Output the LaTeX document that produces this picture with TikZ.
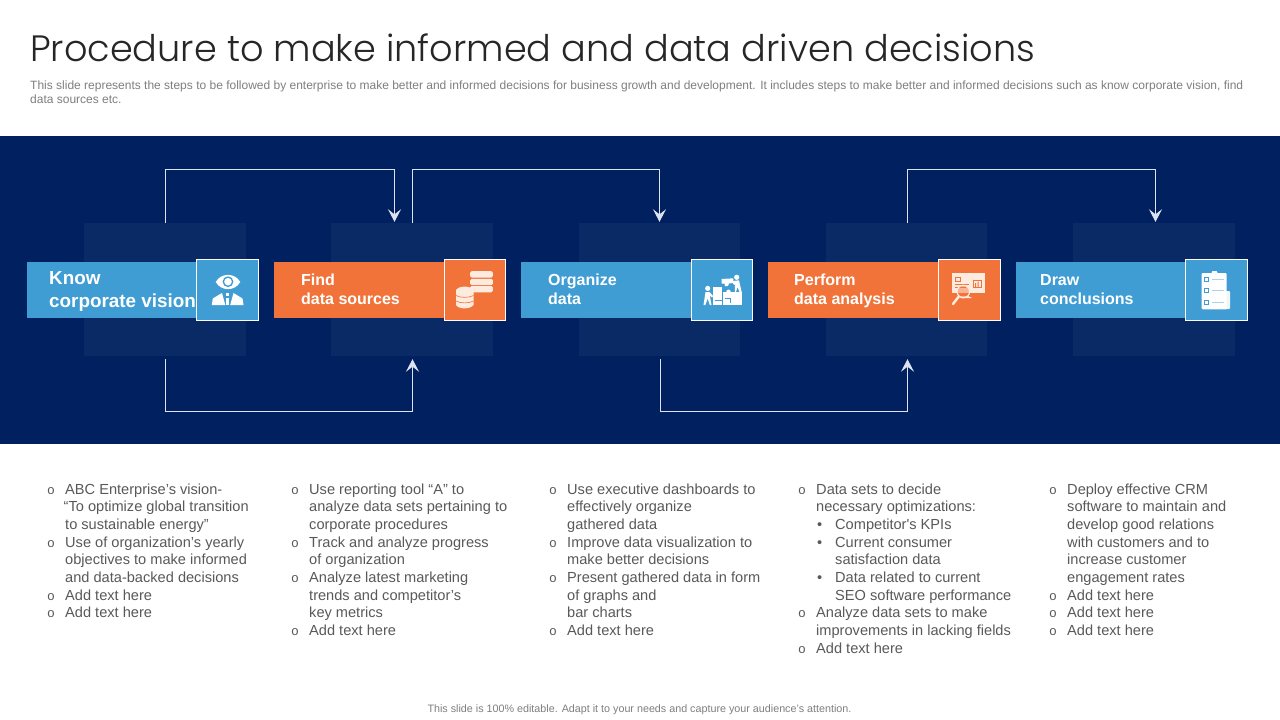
\documentclass[tikz,border=0pt]{standalone}
\usepackage{fontspec}
\usetikzlibrary{arrows.meta}
\newfontfamily\bodyfont{Liberation Sans}
\newfontfamily\bulfont{Liberation Mono}
\newfontfamily\titlefont{Poppins Light}
\definecolor{navy}{HTML}{00205F}
\definecolor{panelc}{HTML}{0A2A66}
\definecolor{bluec}{HTML}{3F9DD3}
\definecolor{orangec}{HTML}{F2733A}
\definecolor{bodyc}{HTML}{595959}
\definecolor{subc}{HTML}{7F7F7F}
\definecolor{linec}{HTML}{DDE3EE}
\definecolor{creamc}{HTML}{FDEBDF}
\newcommand\bul{\makebox[18pt][l]{{\bulfont\fontsize{13pt}{13pt}\selectfont o}}}
\newcommand\cnt{\hspace*{18pt}}
\newcommand\sbul{\hspace*{18pt}\makebox[19pt][l]{\hspace*{1pt}•}}
\newcommand\scnt{\hspace*{37pt}}
\tikzset{
  panelbox/.style={fill=panelc,minimum width=161.5pt,minimum height=133pt,inner sep=0pt},
  barbox/.style={anchor=north west,minimum width=171pt,minimum height=56pt,inner sep=0pt},
  iconbox/.style={draw=white,line width=1pt,minimum width=62pt,minimum height=61pt,inner sep=0pt},
  barlabel/.style={anchor=north west,inner sep=0pt,align=left,text=white,font=\bodyfont\bfseries\fontsize{16pt}{19pt}\selectfont},
  bodytext/.style={anchor=north west,inner sep=0pt,align=left,text=bodyc,font=\bodyfont\fontsize{14.6pt}{17.65pt}\selectfont},
  flow/.style={draw=linec,line width=1pt,-{Stealth[length=12.5pt,width=13pt,inset=5pt]}},
}
\begin{document}
\begin{tikzpicture}[x=1pt,y=-1pt]
\useasboundingbox (0,0) rectangle (1280,720);
\fill[white] (0,0) rectangle (1280,720);
\node[anchor=base west,inner sep=0pt,text=black!85,font=\titlefont\fontsize{36.66pt}{40pt}\selectfont] (title) at (30,61) {Procedure to make informed and data driven decisions};
\node[anchor=north west,inner sep=0pt,align=left,text=subc,font=\bodyfont\fontsize{12pt}{14pt}\selectfont] (sub) at (30,78) {\rule{0pt}{11pt}This slide represents the steps to be followed by enterprise to make better and informed decisions for business growth and development. It includes steps to make better and informed decisions such as know corporate vision, find\\data sources etc.};
\fill[navy] (0,136) rectangle (1280,444);
% panels
\node[panelbox] (p1) at (165,289.5) {};
\node[panelbox] (p2) at (412,289.5) {};
\node[panelbox] (p3) at (659.5,289.5) {};
\node[panelbox] (p4) at (906.5,289.5) {};
\node[panelbox] (p5) at (1154,289.5) {};
% bars
\node[barbox,fill=bluec] (b1) at (27,262) {};
\node[barbox,fill=orangec] (b2) at (274,262) {};
\node[barbox,fill=bluec] (b3) at (521,262) {};
\node[barbox,fill=orangec] (b4) at (768,262) {};
\node[barbox,fill=bluec] (b5) at (1016,262) {};
% icon boxes
\node[iconbox,fill=bluec] (i1) at (227.5,289.8) {};
\node[iconbox,fill=orangec,minimum width=61pt] (i2) at (475,289.8) {};
\node[iconbox,fill=bluec,minimum width=61.4pt] (i3) at (722,289.8) {};
\node[iconbox,fill=orangec] (i4) at (969.5,289.8) {};
\node[iconbox,fill=bluec] (i5) at (1216.5,289.8) {};
% labels
\node[barlabel,font=\bodyfont\bfseries\fontsize{18.85pt}{23pt}\selectfont] (l1) at (49,270) {\rule{0pt}{14pt}Know\\corporate vision};
\node[barlabel] (l2) at (301,271.3) {\rule{0pt}{14pt}Find\\data sources};
\node[barlabel] (l3) at (548,271.3) {\rule{0pt}{14pt}Organize\\data};
\node[barlabel] (l4) at (794,271.3) {\rule{0pt}{14pt}Perform\\data analysis};
\node[barlabel] (l5) at (1040,271.3) {\rule{0pt}{14pt}Draw\\conclusions};
% connectors
\coordinate (o1t) at ([xshift=.5pt]p1.north);
\coordinate (in2) at ([xshift=-17.5pt,yshift=1pt]p2.north);
\coordinate (o2t) at ([xshift=.5pt]p2.north);
\coordinate (in3) at ([yshift=1pt]p3.north);
\coordinate (o4t) at ([xshift=1pt]p4.north);
\coordinate (in5) at ([xshift=1.5pt,yshift=1pt]p5.north);
\coordinate (o1) at ([xshift=.5pt,yshift=-3pt]p1.south);
\coordinate (e2) at ([xshift=.5pt,yshift=-3pt]p2.south);
\coordinate (o3) at ([xshift=1pt,yshift=-3pt]p3.south);
\coordinate (e4) at ([xshift=1pt,yshift=-3pt]p4.south);
\draw[flow] (o1t) -- ++(0,-53.5) -| (in2);
\draw[flow] (o2t) -- ++(0,-53.5) -| (in3);
\draw[flow] (o4t) -- ++(0,-53.5) -| (in5);
\draw[flow] (o1) -- ++(0,52.5) -| (e2);
\draw[flow] (o3) -- ++(0,52.5) -| (e4);
% icon 1: eye and person
\fill[white] (215.7,282) .. controls (221,272.5) and (235,272.5) .. (240.3,282) .. controls (235,291.5) and (221,291.5) .. (215.7,282) -- cycle;
\fill[bluec] (228,281.7) circle[radius=5.4pt];
\fill[white] (228,281.7) circle[radius=3.8pt];
\fill[white] (211.8,305) -- (212.8,298.5) -- (222,293) -- (225.3,305) -- cycle;
\fill[white] (243.5,305) -- (242.5,298.5) -- (233.5,293) -- (230.2,305) -- cycle;
\fill[white] (226.4,293.2) rectangle (229.4,296.2);
\fill[white] (226.4,297.8) rectangle (229.4,305);
% icon 2: database and servers
\foreach \yy in {271.2,278.8,286}{
  \fill[creamc,rounded corners=1.5pt] (470.2,\yy) rectangle (492.8,\yy+6.4);
}
\fill[creamc] (456,290) .. controls (459,285.5) and (470,285.5) .. (473.5,290) -- (473.5,305) .. controls (470,309.5) and (459,309.5) .. (456,305) -- cycle;
\draw[orangec,line width=.6pt] (456,295.5) .. controls (460,298) and (469,298) .. (473.5,295.5);
\draw[orangec,line width=.6pt] (456,301) .. controls (460,303.5) and (469,303.5) .. (473.5,301);
% icon 3: people and puzzle
\fill[white] (707.7,288.4) circle[radius=2.6pt];
\fill[white] (703.5,305) -- (705.5,292) -- (709.5,292) -- (713,296) -- (712,297.5) -- (709.8,295.5) -- (711.5,305) -- (709.8,305) -- (707.6,298.5) -- (705.4,305) -- cycle;
\fill[white] (712.8,297) rectangle (741.7,305);
\fill[white] (712.8,287.3) rectangle (721.7,296.7);
\fill[white] (723.3,291.7) rectangle (741.7,305);
\fill[white] (728.5,291.7) circle[radius=2.2pt];
\fill[white] (721.7,279) -- (733.3,278.3) -- (733.3,283) -- (729,283.5) -- (728,286) -- (725,286) -- (724.5,283.5) -- (721.7,283.5) -- cycle;
\fill[white] (736.7,277.3) circle[radius=2.6pt];
\fill[white] (733,281) -- (739,280.3) -- (741.7,292) -- (739.5,292) -- (737.5,287) -- (736,292) -- (734.8,292) -- (735,285) -- (733,284) -- cycle;
\draw[bluec,line width=.8pt] (714.5,300.5) -- (722,300.5) (722.5,292) -- (722.5,305) (725,298) -- (730,298) -- (730,303);
% icon 4: board and magnifier
\fill[creamc] (952.3,273.3) rectangle (985,293.3);
\draw[orangec,line width=.8pt] (955,277) rectangle (960,281);
\draw[orangec,line width=.8pt] (955,284) -- (969,284) (955,287) -- (966,287);
\draw[orangec,line width=1pt] (973,280.5) rectangle (981,287.5);
\fill[orangec] (975,283) rectangle (976.2,287.5) (977.5,281.5) rectangle (978.7,287.5);
\fill[creamc] (958,296) -- (968,296) -- (972,298) -- (962,298) -- cycle;
\draw[creamc,line width=1.2pt,fill=orangec,fill opacity=.45] (963.3,291.5) circle[radius=6.3pt];
\draw[creamc,line width=2.4pt,line cap=round] (958.8,296.5) -- (953,304);
% icon 5: clipboard
\fill[white!92!bluec,rounded corners=1pt] (1224,291) rectangle (1230,309);
\fill[white,rounded corners=1pt] (1201.7,273) rectangle (1226.5,309.3);
\fill[white] (1211.5,273) -- (1212.5,271) -- (1216.5,271) -- (1217.5,273) -- cycle;
\foreach \yy in {279.3,290.7,302.3}{
  \draw[bluec,line width=.7pt] (1204.7,\yy-2) rectangle (1208.7,\yy+2);
  \draw[bluec!45,line width=.8pt] (1212,\yy) -- (1224,\yy);
}
% body columns
\node[bodytext] (c1) at (47,480) {\rule{0pt}{14pt}\bul ABC Enterprise’s vision-\\\hspace*{16.5pt}“To optimize global transition\\\cnt to sustainable energy”\\\bul Use of organization’s yearly\\\cnt objectives to make informed\\\cnt and data-backed decisions\\\bul Add text here\\\bul Add text here};
\node[bodytext] (c2) at (291,480) {\rule{0pt}{14pt}\bul Use reporting tool “A” to\\\cnt analyze data sets pertaining to\\\cnt corporate procedures\\\bul Track and analyze progress\\\cnt of organization\\\bul Analyze latest marketing\\\cnt trends and competitor’s\\\cnt key metrics\\\bul Add text here};
\node[bodytext] (c3) at (549,480) {\rule{0pt}{14pt}\bul Use executive dashboards to\\\cnt effectively organize\\\cnt gathered data\\\bul Improve data visualization to\\\cnt make better decisions\\\bul Present gathered data in form\\\cnt of graphs and\\\cnt bar charts\\\bul Add text here};
\node[bodytext] (c4) at (798,480) {\rule{0pt}{14pt}\bul Data sets to decide\\\cnt necessary optimizations:\\\sbul Competitor's KPIs\\\sbul Current consumer\\\scnt satisfaction data\\\sbul Data related to current\\\scnt SEO software performance\\\bul Analyze data sets to make\\\cnt improvements in lacking fields\\\bul Add text here};
\node[bodytext] (c5) at (1049,480) {\rule{0pt}{14pt}\bul Deploy effective CRM\\\cnt software to maintain and\\\cnt develop good relations\\\cnt with customers and to\\\cnt increase customer\\\cnt engagement rates\\\bul Add text here\\\bul Add text here\\\bul Add text here};
\node[anchor=base,inner sep=0pt,text=subc,font=\bodyfont\fontsize{10.75pt}{12pt}\selectfont] (foot) at (639.5,712) {This slide is 100\% editable. Adapt it to your needs and capture your audience’s attention.};
\end{tikzpicture}
\end{document}
